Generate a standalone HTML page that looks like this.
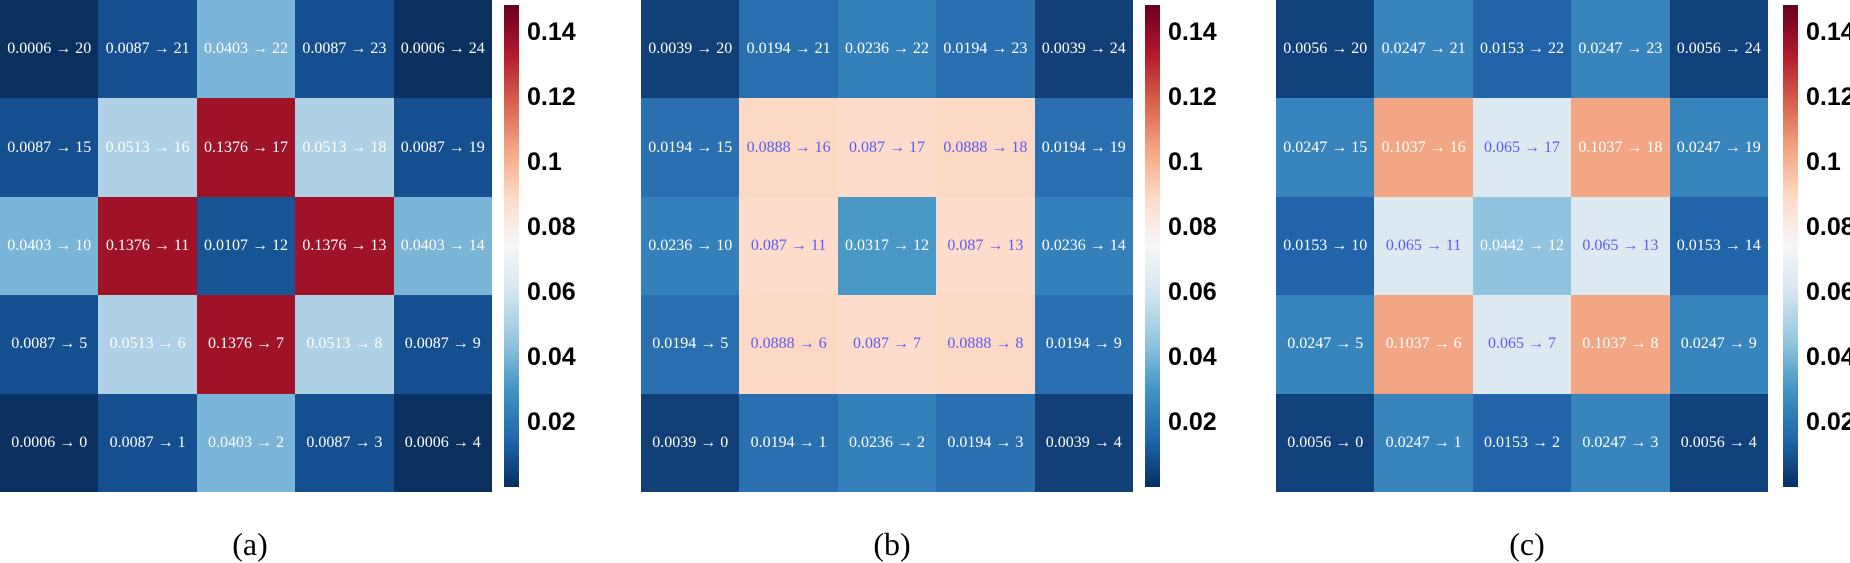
<!DOCTYPE html>
<html><head><meta charset="utf-8"><style>
body{margin:0;width:1850px;height:559px;background:#fff;position:relative;overflow:hidden;font-family:"Liberation Serif",serif}
.p{position:absolute;top:0;width:492px;height:492px;display:grid;grid-template-columns:repeat(5,1fr);grid-template-rows:repeat(5,1fr)}
.p div{display:flex;align-items:center;justify-content:center;color:#fff;font-size:16px;white-space:nowrap}
.p div.b{color:#5b5cf2}
.cb{position:absolute;top:5px;width:15px;height:482px;background:linear-gradient(to top,#053061 0%,#2166ac 10%,#4393c3 20%,#92c5de 30%,#d1e5f0 40%,#f7f7f7 50%,#fddbc7 60%,#f4a582 70%,#d6604d 80%,#b2182b 90%,#67001f 100%)}
.t{position:absolute;font-family:"Liberation Sans",sans-serif;font-weight:bold;font-size:25px;color:#000;line-height:1}
.l{position:absolute;top:526px;font-size:32px;transform:translateX(-50%)}
</style></head><body>
<div class="p" style="left:0">
<div style="background:#0b3060">0.0006 → 20</div><div style="background:#154f8f">0.0087 → 21</div><div style="background:#7ab4d6">0.0403 → 22</div><div style="background:#154f8f">0.0087 → 23</div><div style="background:#0b3060">0.0006 → 24</div>
<div style="background:#154f8f">0.0087 → 15</div><div style="background:#aed1e5">0.0513 → 16</div><div style="background:#a01228">0.1376 → 17</div><div style="background:#aed1e5">0.0513 → 18</div><div style="background:#154f8f">0.0087 → 19</div>
<div style="background:#7ab4d6">0.0403 → 10</div><div style="background:#a01228">0.1376 → 11</div><div style="background:#175494">0.0107 → 12</div><div style="background:#a01228">0.1376 → 13</div><div style="background:#7ab4d6">0.0403 → 14</div>
<div style="background:#154f8f">0.0087 → 5</div><div style="background:#aed1e5">0.0513 → 6</div><div style="background:#a01228">0.1376 → 7</div><div style="background:#aed1e5">0.0513 → 8</div><div style="background:#154f8f">0.0087 → 9</div>
<div style="background:#0b3060">0.0006 → 0</div><div style="background:#154f8f">0.0087 → 1</div><div style="background:#7ab4d6">0.0403 → 2</div><div style="background:#154f8f">0.0087 → 3</div><div style="background:#0b3060">0.0006 → 4</div>
</div>
<div class="p" style="left:641px">
<div style="background:#113f76">0.0039 → 20</div><div style="background:#2a70b0">0.0194 → 21</div><div style="background:#3380bb">0.0236 → 22</div><div style="background:#2a70b0">0.0194 → 23</div><div style="background:#113f76">0.0039 → 24</div>
<div style="background:#2a70b0">0.0194 → 15</div><div class="b" style="background:#fcd9c4">0.0888 → 16</div><div class="b" style="background:#fddccb">0.087 → 17</div><div class="b" style="background:#fcd9c4">0.0888 → 18</div><div style="background:#2a70b0">0.0194 → 19</div>
<div style="background:#3380bb">0.0236 → 10</div><div class="b" style="background:#fddccb">0.087 → 11</div><div style="background:#4a98c5">0.0317 → 12</div><div class="b" style="background:#fddccb">0.087 → 13</div><div style="background:#3380bb">0.0236 → 14</div>
<div style="background:#2a70b0">0.0194 → 5</div><div class="b" style="background:#fcd9c4">0.0888 → 6</div><div class="b" style="background:#fddccb">0.087 → 7</div><div class="b" style="background:#fcd9c4">0.0888 → 8</div><div style="background:#2a70b0">0.0194 → 9</div>
<div style="background:#113f76">0.0039 → 0</div><div style="background:#2a70b0">0.0194 → 1</div><div style="background:#3380bb">0.0236 → 2</div><div style="background:#2a70b0">0.0194 → 3</div><div style="background:#113f76">0.0039 → 4</div>
</div>
<div class="p" style="left:1276px">
<div style="background:#10417a">0.0056 → 20</div><div style="background:#3885bd">0.0247 → 21</div><div style="background:#2164aa">0.0153 → 22</div><div style="background:#3885bd">0.0247 → 23</div><div style="background:#10417a">0.0056 → 24</div>
<div style="background:#3885bd">0.0247 → 15</div><div style="background:#f3a683">0.1037 → 16</div><div class="b" style="background:#dde9f1">0.065 → 17</div><div style="background:#f3a683">0.1037 → 18</div><div style="background:#3885bd">0.0247 → 19</div>
<div style="background:#2164aa">0.0153 → 10</div><div class="b" style="background:#dde9f1">0.065 → 11</div><div style="background:#90c3de">0.0442 → 12</div><div class="b" style="background:#dde9f1">0.065 → 13</div><div style="background:#2164aa">0.0153 → 14</div>
<div style="background:#3885bd">0.0247 → 5</div><div style="background:#f3a683">0.1037 → 6</div><div class="b" style="background:#dde9f1">0.065 → 7</div><div style="background:#f3a683">0.1037 → 8</div><div style="background:#3885bd">0.0247 → 9</div>
<div style="background:#10417a">0.0056 → 0</div><div style="background:#3885bd">0.0247 → 1</div><div style="background:#2164aa">0.0153 → 2</div><div style="background:#3885bd">0.0247 → 3</div><div style="background:#10417a">0.0056 → 4</div>
</div>
<div class="cb" style="left:504px"></div>
<div class="cb" style="left:1145px"></div>
<div class="cb" style="left:1783px"></div>
<div class="l" style="left:250px">(a)</div>
<div class="l" style="left:892px">(b)</div>
<div class="l" style="left:1527px">(c)</div>
<div class="t" style="left:527px;top:20px">0.14</div><div class="t" style="left:527px;top:85px">0.12</div><div class="t" style="left:527px;top:150px">0.1</div><div class="t" style="left:527px;top:215px">0.08</div><div class="t" style="left:527px;top:280px">0.06</div><div class="t" style="left:527px;top:345px">0.04</div><div class="t" style="left:527px;top:410px">0.02</div>
<div class="t" style="left:1168px;top:20px">0.14</div><div class="t" style="left:1168px;top:85px">0.12</div><div class="t" style="left:1168px;top:150px">0.1</div><div class="t" style="left:1168px;top:215px">0.08</div><div class="t" style="left:1168px;top:280px">0.06</div><div class="t" style="left:1168px;top:345px">0.04</div><div class="t" style="left:1168px;top:410px">0.02</div>
<div class="t" style="left:1806px;top:20px">0.14</div><div class="t" style="left:1806px;top:85px">0.12</div><div class="t" style="left:1806px;top:150px">0.1</div><div class="t" style="left:1806px;top:215px">0.08</div><div class="t" style="left:1806px;top:280px">0.06</div><div class="t" style="left:1806px;top:345px">0.04</div><div class="t" style="left:1806px;top:410px">0.02</div>
</body></html>
